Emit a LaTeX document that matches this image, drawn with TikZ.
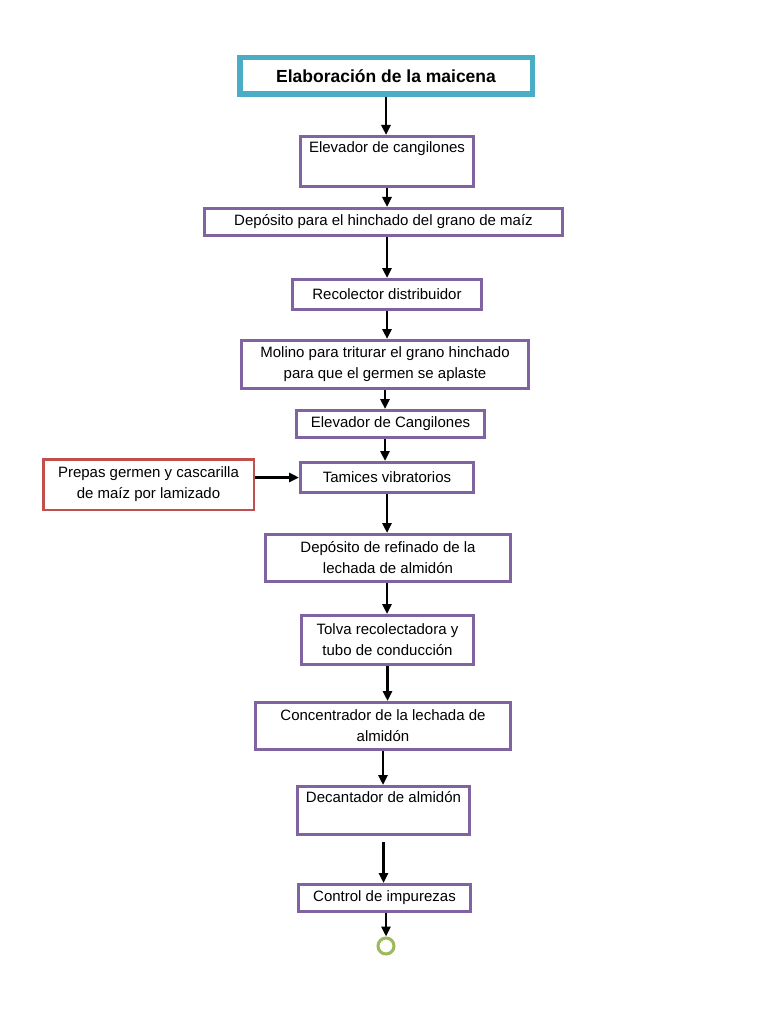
\documentclass[tikz,border=0pt]{standalone}
\usepackage{fontspec}
\setmainfont{Liberation Sans}
\usepackage{tikz}
\usetikzlibrary{arrows.meta}
\definecolor{paso}{HTML}{8064A2}
\definecolor{titulo}{HTML}{4BACC6}
\definecolor{rojo}{HTML}{C0504D}
\definecolor{verde}{HTML}{9BBB59}

\begin{document}
\begin{tikzpicture}[x=1pt,y=-1pt,
  paso/.style={draw=paso,line width=3pt,fill=white,align=center,font=\fontsize{15}{21}\selectfont,inner sep=5pt},
  arriba/.style={paso,text height=11pt},
  flecha/.style={line width=2.8pt,-{Triangle[length=10pt,width=9pt]}}]
  \fill[white] (0,0) rectangle (768,1024);
  \useasboundingbox (0,0) rectangle (768,1024);
  \node[draw=titulo,line width=5.5pt,minimum width=292.5pt,minimum height=36.5pt,font=\fontsize{17.5}{21}\selectfont\bfseries] (titulo) at (386,76) {Elaboración de la maicena};
  \node[arriba,text depth=29pt,minimum width=173pt] (elevador) at (387,161.5) {Elevador de cangilones};
  \node[paso,minimum width=358pt,minimum height=27pt] (deposito) at (383.5,222) {Depósito para el hinchado del grano de maíz};
  \node[paso,minimum width=189pt,minimum height=30pt] (recolector) at (387,294.5) {Recolector distribuidor};
  \node[paso,minimum width=287pt,minimum height=48pt] (molino) at (385,364.5) {Molino para triturar el grano hinchado\\para que el germen se aplaste};
  \node[paso,minimum width=188pt,minimum height=27pt] (elevador2) at (390.5,424) {Elevador de Cangilones};
  \node[paso,minimum width=173pt,minimum height=30pt] (tamices) at (387,477.5) {Tamices vibratorios};
  \node[paso,draw=rojo,line width=2.5pt,minimum width=210.5pt,minimum height=50.5pt] (prepas) at (148.5,484.5) {Prepas germen y cascarilla\\de maíz por lamizado};
  \node[paso,minimum width=245pt,minimum height=47pt] (refinado) at (388,558) {Depósito de refinado de la\\lechada de almidón};
  \node[paso,minimum width=172pt,minimum height=49pt] (tolva) at (387.5,640) {Tolva recolectadora y\\tubo de conducción};
  \node[paso,minimum width=255pt,minimum height=47pt] (concentrador) at (383,726) {Concentrador de la lechada de\\almidón};
  \node[arriba,text depth=27pt,minimum width=172pt] (decantador) at (383.5,810.5) {Decantador de almidón};
  \node[paso,minimum width=172pt,minimum height=27pt] (control) at (384.5,898) {Control de impurezas};
  \node[circle,draw=verde,line width=3pt,minimum size=16pt,inner sep=0pt] (fin) at (386,946) {};
  \draw[flecha] (titulo) -- (titulo |- elevador.north);
  \draw[flecha] (elevador) -- (elevador |- deposito.north);
  \draw[flecha] (recolector |- deposito.south) -- (recolector);
  \draw[flecha] (recolector) -- (recolector |- molino.north);
  \draw[flecha] (molino) -- (molino |- elevador2.north);
  \draw[flecha] (molino |- elevador2.south) -- (molino |- tamices.north);
  \draw[flecha] (tamices) -- (tamices |- refinado.north);
  \draw[flecha] (tamices |- refinado.south) -- (tamices |- tolva.north);
  \draw[flecha] (tolva) -- (tolva |- concentrador.north);
  \draw[flecha] (concentrador) -- (concentrador |- decantador.north);
  \draw[flecha,shorten <=6pt] (decantador) -- (decantador |- control.north);
  \draw[flecha] (fin |- control.south) -- (fin);
  \draw[flecha] (tamices -| prepas.east) -- (tamices.west);
\end{tikzpicture}
\end{document}
